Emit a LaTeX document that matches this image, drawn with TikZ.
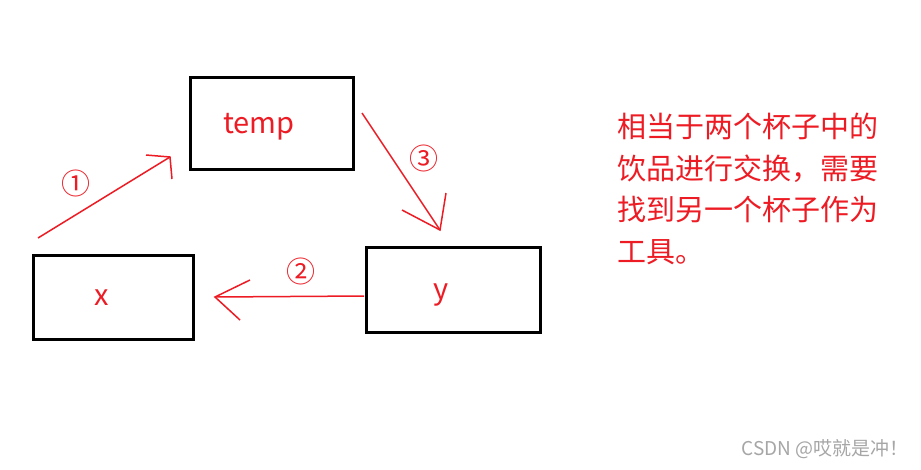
\documentclass[tikz,border=0pt]{standalone}
\usepackage{fontspec}
\setmainfont{Noto Sans CJK SC}
\definecolor{rd}{RGB}{237,28,36}
\begin{document}
\begin{tikzpicture}[x=1pt,y=-1pt,
  box/.style={draw=black,line width=3pt,inner sep=0pt},
  lbl/.style={text=rd,font=\fontsize{29}{32}\selectfont},
  arr/.style={draw=rd,line width=1.5pt},
  tip/.style={draw=rd,line width=1.5pt}]
\useasboundingbox[fill=white] (0,0) rectangle (921,469);
\node[box,minimum width=163pt,minimum height=92pt] (temp) at (271.5,123) {};
\node[lbl] at (259,127) {temp};
\node[box,minimum width=160pt,minimum height=84pt] (x) at (113,297) {};
\node[lbl] at (102,298) {x};
\node[box,minimum width=174pt,minimum height=85pt] (y) at (453,289.5) {};
\node[lbl] at (441,295) {y};
% arrow 1
\coordinate (a1s) at (38,238); \coordinate (a1e) at (170,157);
\draw[arr] (a1s) -- (a1e);
\draw[tip] (146,155) -- (a1e) -- (172,179);
\node[lbl] (n1) at (76,183) {①};
% arrow 3
\coordinate (a3s) at (362,113); \coordinate (a3e) at (440,230);
\draw[arr] (a3s) -- (a3e);
\draw[tip] (402,210) -- (a3e) -- (446,193);
\node[lbl] (n3) at (424,158) {③};
% arrow 2
\coordinate (a2s) at (364,296); \coordinate (a2e) at (215,297);
\draw[arr] (a2s) -- (a2e);
\draw[tip] (250,280) -- (a2e) -- (240,320);
\node[lbl] (n2) at (301,271) {②};
% text
\node[lbl,anchor=west,align=left,font=\fontsize{29}{41.5}\selectfont] (txt) at (614,189)
 {相当于两个杯子中的\\饮品进行交换，需要\\找到另一个杯子作为\\工具。};
\node[text=gray!70,font=\fontsize{19}{22}\selectfont,anchor=east] (wm) at (912,449) {CSDN @哎就是冲！};
\end{tikzpicture}
\end{document}
